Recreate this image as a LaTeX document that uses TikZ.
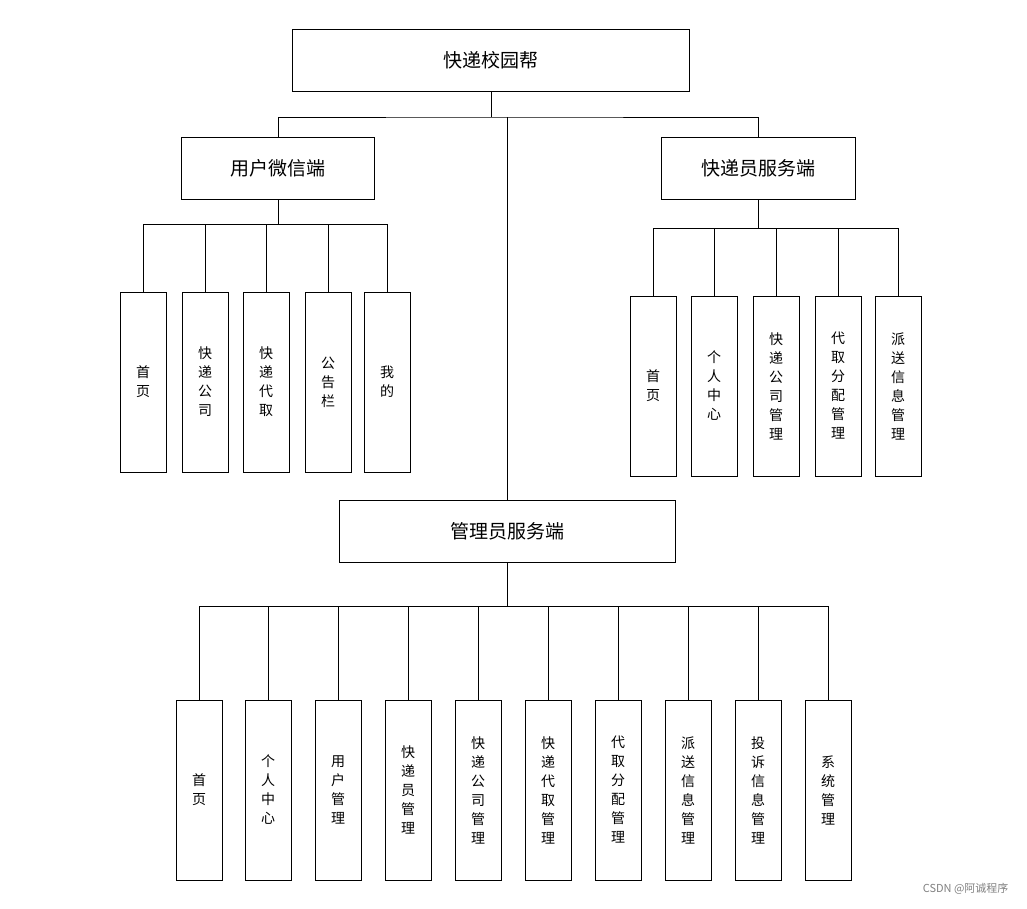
\documentclass[tikz,border=0pt]{standalone}
\usepackage{fontspec}
\setmainfont{Noto Sans CJK SC}
\begin{document}
\begin{tikzpicture}[x=1pt,y=-1pt,
  top/.style={draw,line width=0.8pt,minimum width=#1,minimum height=62pt,font=\fontsize{19}{22}\selectfont,inner sep=0pt},
  leaf/.style={draw,line width=0.8pt,minimum width=46pt,minimum height=180pt,font=\fontsize{14}{19}\selectfont,align=center,inner sep=0pt},
  ln/.style={line width=0.8pt}]
\useasboundingbox (0,0) rectangle (1027,908);
\node[top=397pt] (root) at (491,60) {快递校园帮};
\node[top=193pt] (user) at (278,168) {用户微信端};
\node[top=194pt] (cour) at (758,168) {快递员服务端};
\node[top=336pt] (adm) at (507,531) {管理员服务端};
\coordinate (r1) at (491,117);
\draw[ln] (root.south) -- (r1);
\draw[ln] (user.north) |- (r1) -| (cour.north);
\draw[ln] (507,117) -- (adm.north);
% user children
\foreach \n/\x/\t in {u1/143/首\\页, u2/205/快\\递\\公\\司, u3/266/快\\递\\代\\取, u4/328/公\\告\\栏, u5/387/我\\的}{
  \node[leaf] (\n) at (\x,382) {\t};
  \draw[ln] (user.south) |- (\x,224) -- (\n.north);
}
\foreach \n/\x/\t in {c1/653/首\\页, c2/714/个\\人\\中\\心, c3/776/快\\递\\公\\司\\管\\理, c4/838/代\\取\\分\\配\\管\\理, c5/898/派\\送\\信\\息\\管\\理}{
  \node[leaf] (\n) at (\x,386) {\t};
  \draw[ln] (cour.south) |- (\x,228) -- (\n.north);
}
\foreach \n/\x/\t in {a1/199/首\\页, a2/268/个\\人\\中\\心, a3/338/用\\户\\管\\理, a4/408/快\\递\\员\\管\\理, a5/478/快\\递\\公\\司\\管\\理, a6/548/快\\递\\代\\取\\管\\理, a7/618/代\\取\\分\\配\\管\\理, a8/688/派\\送\\信\\息\\管\\理, a9/758/投\\诉\\信\\息\\管\\理, a10/828/系\\统\\管\\理}{
  \node[leaf] (\n) at (\x,790) {\t};
  \draw[ln] (adm.south) |- (\x,606) -- (\n.north);
}
\node[text=gray,font=\fontsize{11}{13}\selectfont,anchor=east] (wm) at (1012,889) {CSDN @阿诚程序};
\end{tikzpicture}
\end{document}
